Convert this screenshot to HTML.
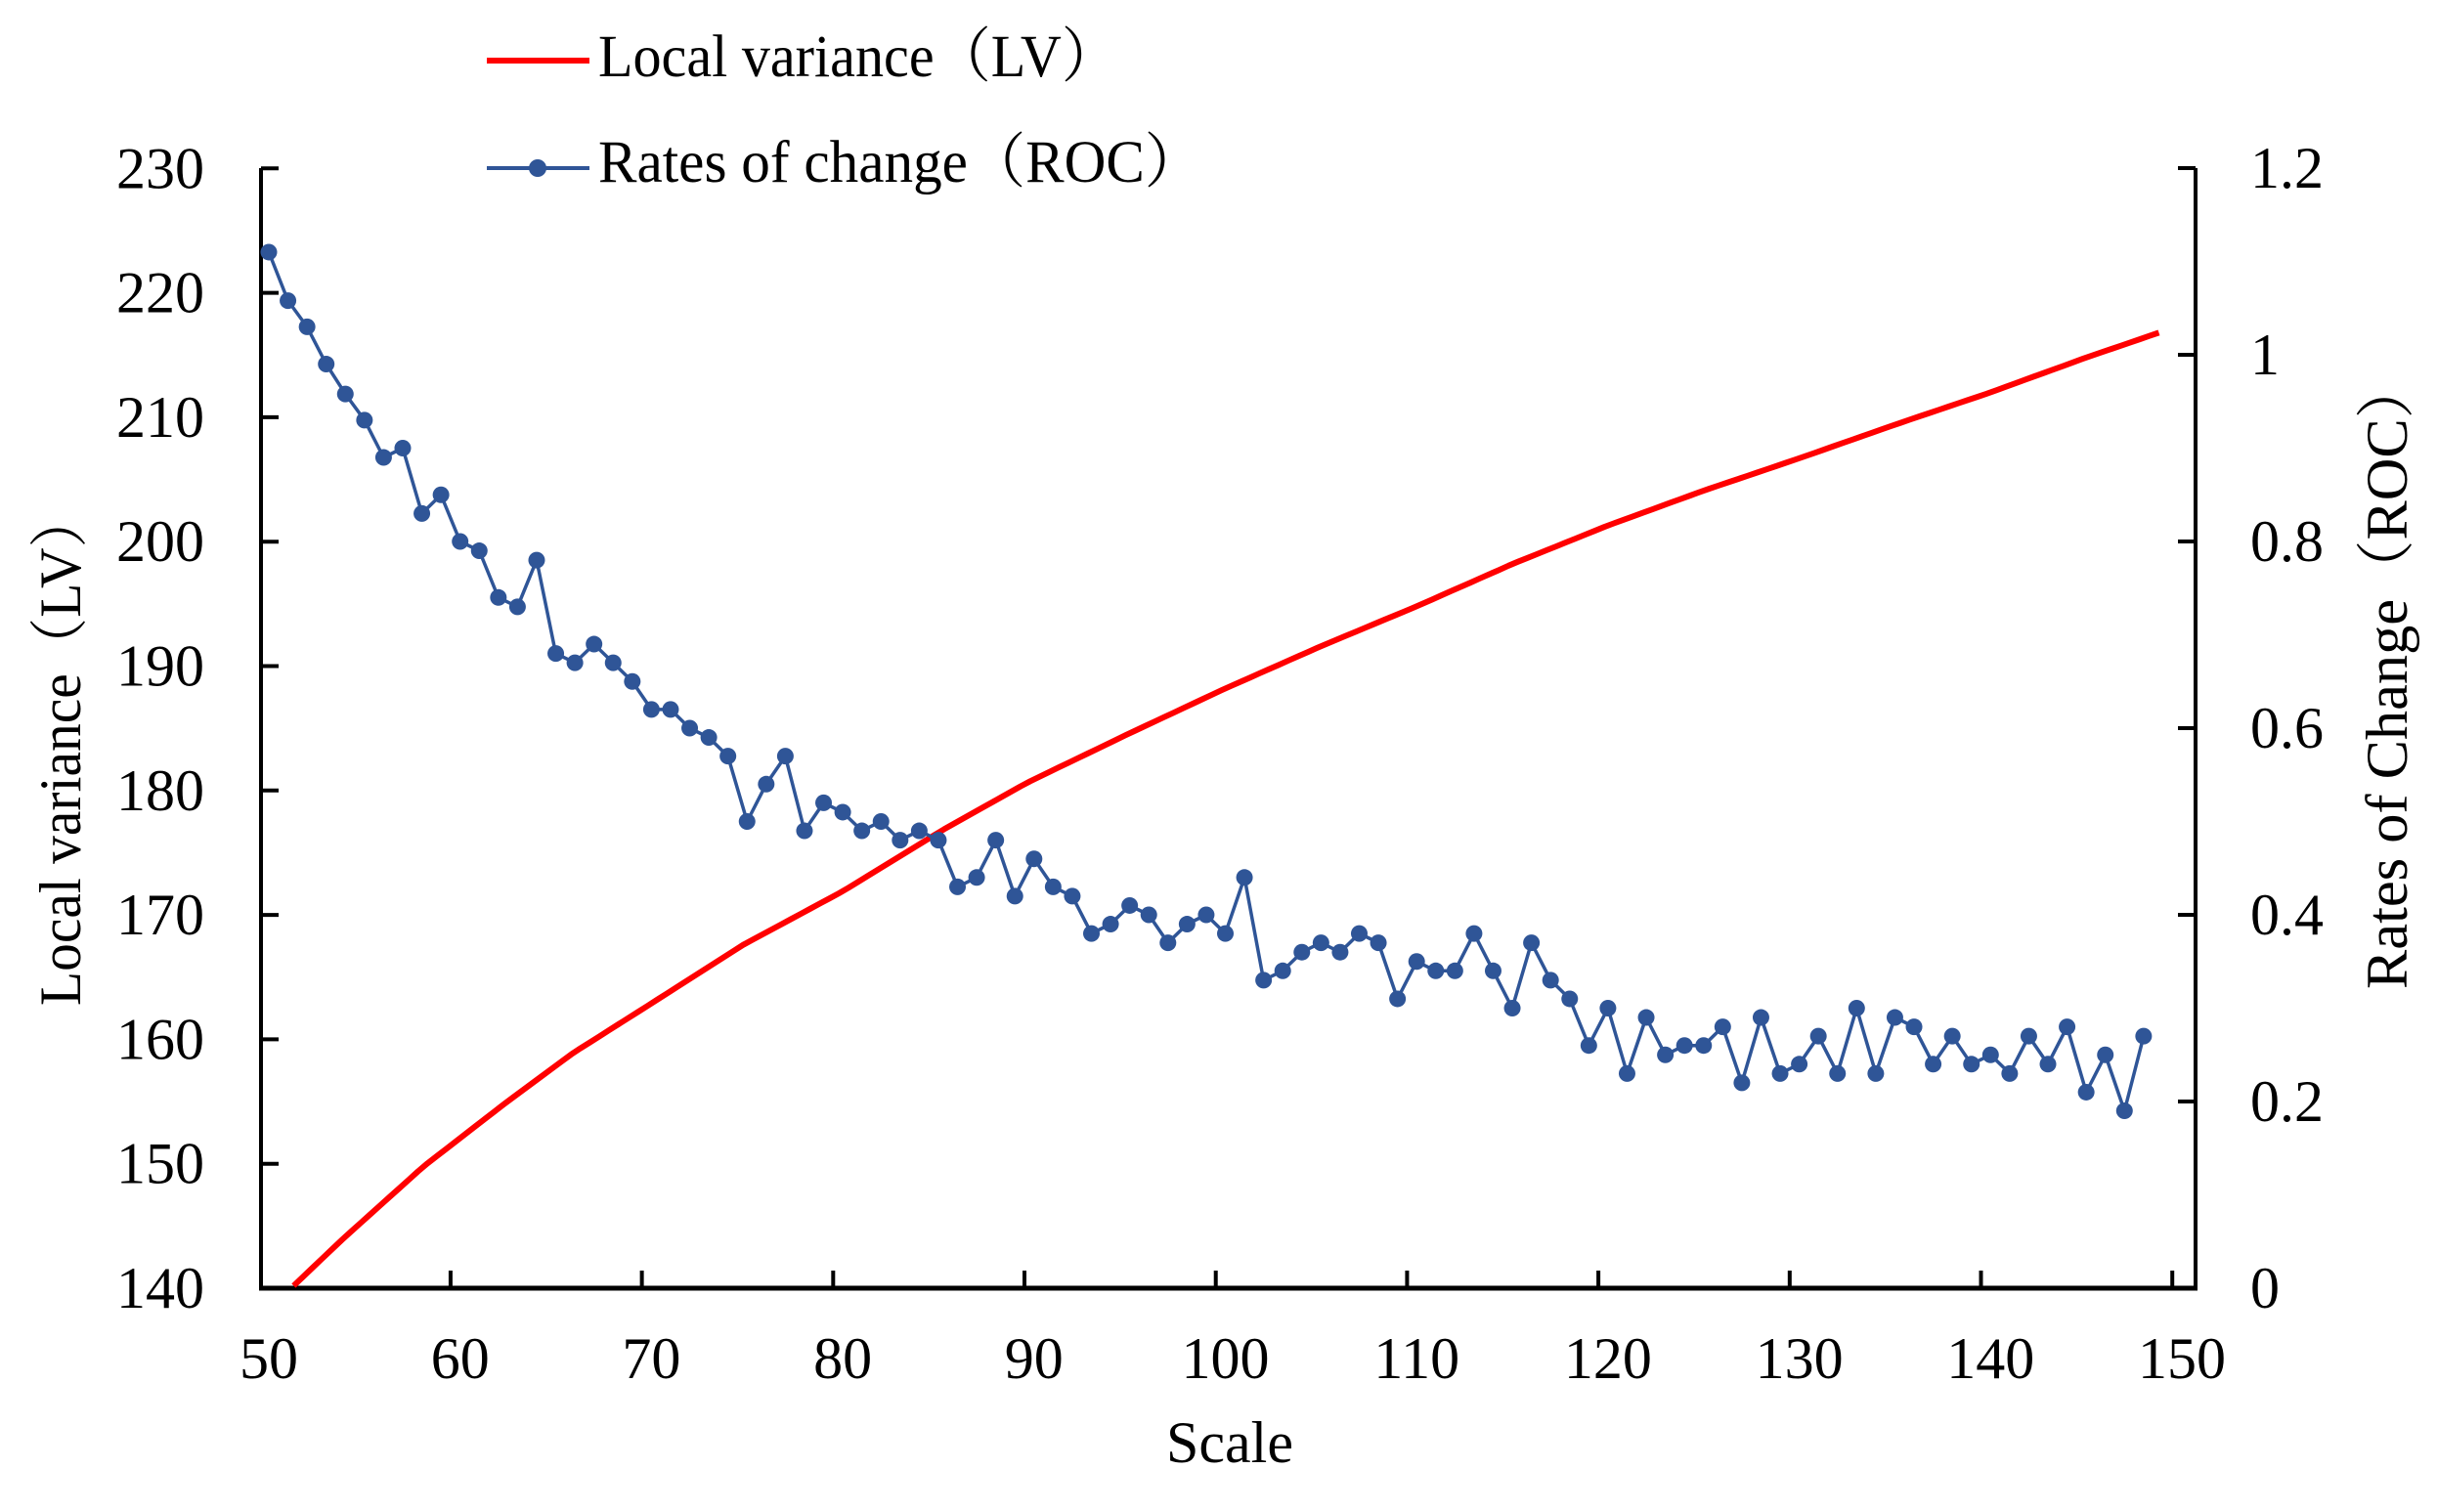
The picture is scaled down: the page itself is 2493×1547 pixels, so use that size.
<!DOCTYPE html>
<html><head><meta charset="utf-8"><style>
html,body{margin:0;padding:0;background:#fff;}
svg text{font-family:"Liberation Serif","Noto Serif CJK SC",serif;fill:#000;}
</style></head><body>
<svg id="s" width="2493" height="1542" viewBox="0 0 2493 1542" xmlns="http://www.w3.org/2000/svg">
<rect width="2493" height="1542" fill="#fff"/>
<g id="g"></g>
</svg>
<script>
const g=document.getElementById('g');
const NS='http://www.w3.org/2000/svg';
function el(t,a,txt){const e=document.createElementNS(NS,t);for(const k in a)e.setAttribute(k,a[k]);if(txt!==undefined)e.textContent=txt;g.appendChild(e);return e;}
const X=v=>275+(v-50)*19.57;
const YL=v=>1318-(v-140)*12.73;
const YR=v=>1318-v*955;
el('line',{x1:267,y1:172,x2:267,y2:1320,stroke:'#000','stroke-width':4});
el('line',{x1:2246,y1:172,x2:2246,y2:1320,stroke:'#000','stroke-width':4});
el('line',{x1:265,y1:1318,x2:2248,y2:1318,stroke:'#000','stroke-width':5});
for(let i=0;i<=9;i++){const v=140+i*10,y=YL(v);
 el('line',{x1:267,y1:y,x2:285,y2:y,stroke:'#000','stroke-width':4});
 el('text',{x:209,y:y+20,'font-size':60,'text-anchor':'end'},String(v));}
const rl=['0','0.2','0.4','0.6','0.8','1','1.2'];
for(let i=0;i<=6;i++){const y=1318-i*191;
 el('line',{x1:2228,y1:y,x2:2246,y2:y,stroke:'#000','stroke-width':4});
 el('text',{x:2302,y:y+20,'font-size':60},rl[i]);}
for(let v=59.5;v<=150;v+=10){const x=X(v);el('line',{x1:x,y1:1300,x2:x,y2:1318,stroke:'#000','stroke-width':4});}
for(let v=50;v<=150;v+=10){el('text',{x:X(v),y:1410,'font-size':60,'text-anchor':'middle'},String(v));}
el('text',{x:1258,y:1496,'font-size':60,'text-anchor':'middle'},'Scale');
el('text',{x:0,y:0,'font-size':60,'text-anchor':'middle',transform:'translate(82,766) rotate(-90)',textLength:526,lengthAdjust:'spacingAndGlyphs'},'Local variance（LV）');
el('text',{x:0,y:0,'font-size':60,'text-anchor':'middle',transform:'translate(2462,690) rotate(-90)',textLength:644,lengthAdjust:'spacingAndGlyphs'},'Rates of Change（ROC）');
el('line',{x1:498,y1:62,x2:603,y2:62,stroke:'#ff0000','stroke-width':6});
el('text',{x:612,y:78,'font-size':61,textLength:532,lengthAdjust:'spacingAndGlyphs'},'Local variance（LV）');
el('line',{x1:498,y1:172,x2:603,y2:172,stroke:'#2f5597','stroke-width':4});
el('circle',{cx:550,cy:172,r:9,fill:'#2f5597'});
el('text',{x:612,y:186,'font-size':61,textLength:618,lengthAdjust:'spacingAndGlyphs'},'Rates of change（ROC）');
const lk=[[51.3,140.2],[53.9,144.0],[58.1,149.8],[62.3,154.8],[65.9,158.9],[69.6,162.5],[74.8,167.6],[80,171.9],[85.2,176.8],[89.6,180.6],[95,184.6],[100,188.2],[105,191.6],[110,194.8],[115,198.2],[120,201.3],[125,204.1],[130,206.7],[135,209.4],[140,212],[145,214.8],[149,216.9]];
function lv(s){for(let i=0;i<lk.length-1;i++){if(s<=lk[i+1][0]){const a=lk[i],b=lk[i+1],t=(s-a[0])/(b[0]-a[0]);return a[1]+t*(b[1]-a[1]);}}return lk[lk.length-1][1];}
let p='';for(let s=51.3;s<=149.001;s+=0.5){p+=(p?'L':'M')+X(s).toFixed(1)+' '+YL(lv(s)).toFixed(1);}
el('path',{d:p,fill:'none',stroke:'#ff0000','stroke-width':6,'stroke-linejoin':'round'});
const r=[1.11,1.058,1.03,0.99,0.958,0.93,0.89,0.90,0.83,0.85,0.80,0.79,0.74,0.73,0.78,0.68,0.67,0.69,0.67,0.65,0.62,0.62,0.60,0.59,0.57,0.50,0.54,0.57,0.49,0.52,0.51,0.49,0.50,0.48,0.49,0.48,0.43,0.44,0.48,0.42,0.46,0.43,0.42,0.38,0.39,0.41,0.40,0.37,0.39,0.40,0.38,0.44,0.33,0.34,0.36,0.37,0.36,0.38,0.37,0.31,0.35,0.34,0.34,0.38,0.34,0.30,0.37,0.33,0.31,0.26,0.30,0.23,0.29,0.25,0.26,0.26,0.28,0.22,0.29,0.23,0.24,0.27,0.23,0.30,0.23,0.29,0.28,0.24,0.27,0.24,0.25,0.23,0.27,0.24,0.28,0.21,0.25,0.19,0.27];
let q='';r.forEach((v,i)=>{q+=(i?'L':'M')+X(50+i).toFixed(1)+' '+YR(v).toFixed(1);});
el('path',{d:q,fill:'none',stroke:'#2f5597','stroke-width':3.5,'stroke-linejoin':'round'});
r.forEach((v,i)=>el('circle',{cx:X(50+i),cy:YR(v),r:8.5,fill:'#2f5597'}));
</script>
</body></html>
